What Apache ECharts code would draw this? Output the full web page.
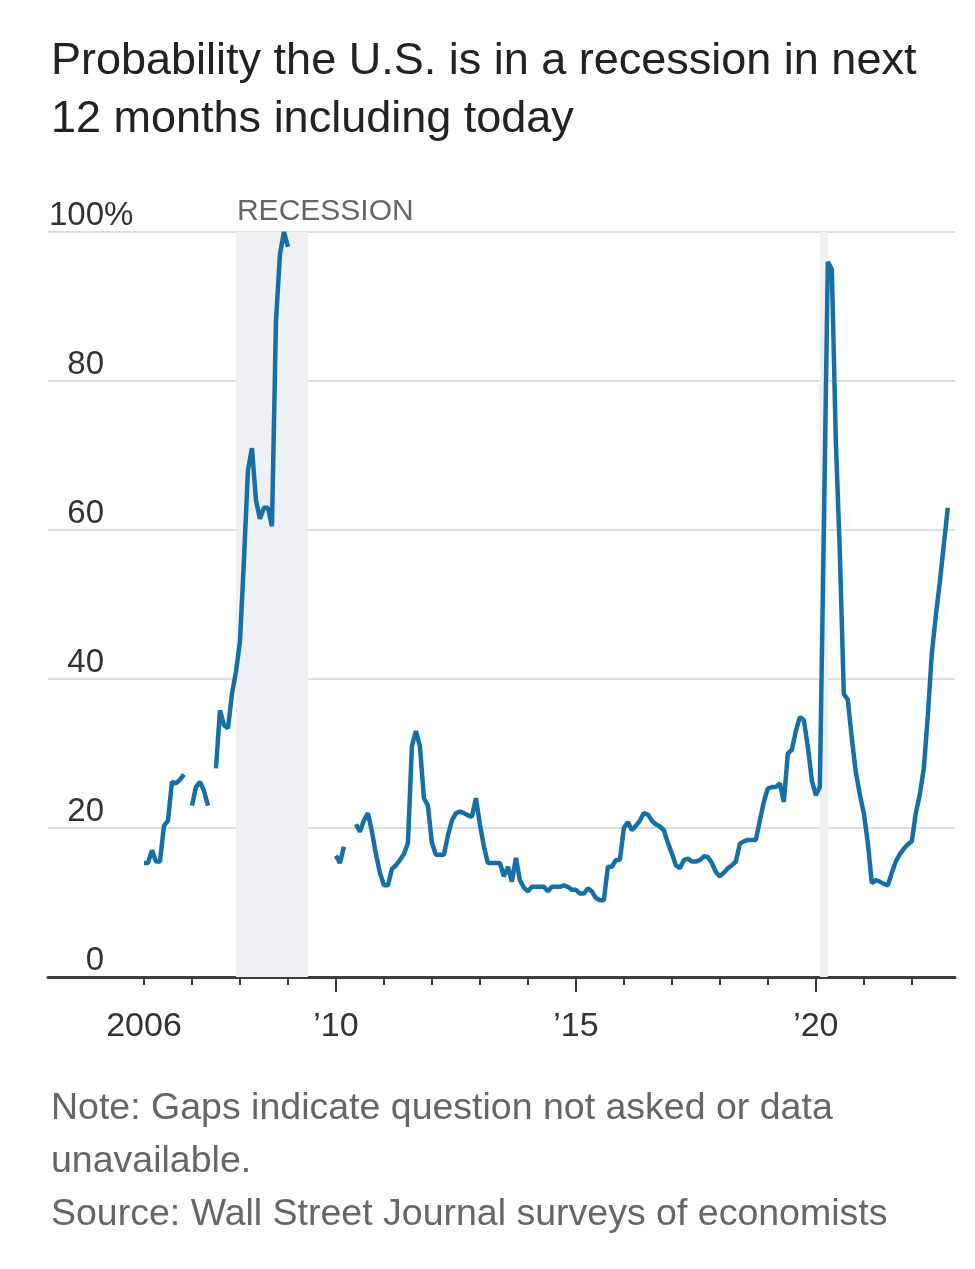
<!DOCTYPE html>
<html>
<head>
<meta charset="utf-8">
<script src="https://cdn.jsdelivr.net/npm/echarts@6/dist/echarts.min.js"></script>
<style>
  html, body { margin: 0; padding: 0; background: #fff; }
  #chart { width: 975px; height: 1269px; }
</style>
</head>
<body>
<div id="chart"></div>
<script>
// survey months (YYYY-MM) and probability in %, null = gap in the survey
var months = [
  '2006-01','2006-02','2006-03','2006-04','2006-05','2006-06','2006-07','2006-08','2006-09','2006-10','2006-11','2006-12',
  '2007-01','2007-02','2007-03','2007-04','2007-05','2007-06',
  '2007-07','2007-08','2007-09','2007-10','2007-11','2007-12',
  '2008-01','2008-02','2008-03','2008-04','2008-05','2008-06','2008-07','2008-08','2008-09','2008-10','2008-11','2008-12',
  '2009-01','2009-02',
  '2010-01','2010-02','2010-03','2010-04',
  '2010-06','2010-07','2010-08','2010-09','2010-10','2010-11','2010-12',
  '2011-01','2011-02','2011-03','2011-04','2011-05','2011-06','2011-07','2011-08','2011-09','2011-10','2011-11','2011-12',
  '2012-01','2012-02','2012-03','2012-04','2012-05','2012-06','2012-07','2012-08','2012-09','2012-10','2012-11','2012-12',
  '2013-01','2013-02','2013-03','2013-04','2013-05','2013-06','2013-07','2013-08','2013-09','2013-10','2013-11','2013-12',
  '2014-01','2014-02','2014-03','2014-04','2014-05','2014-06','2014-07','2014-08','2014-09','2014-10','2014-11','2014-12',
  '2015-01','2015-02','2015-03','2015-04','2015-05','2015-06','2015-07','2015-08','2015-09','2015-10','2015-11','2015-12',
  '2016-01','2016-02','2016-03','2016-04','2016-05','2016-06','2016-07','2016-08','2016-09','2016-10','2016-11','2016-12',
  '2017-01','2017-02','2017-03','2017-04','2017-05','2017-06','2017-07','2017-08','2017-09','2017-10','2017-11','2017-12',
  '2018-01','2018-02','2018-03','2018-04','2018-05','2018-06','2018-07','2018-08','2018-09','2018-10','2018-11','2018-12',
  '2019-01','2019-02','2019-03','2019-04','2019-05','2019-06','2019-07','2019-08','2019-09','2019-10','2019-11','2019-12',
  '2020-01','2020-02','2020-03','2020-04','2020-05','2020-06','2020-07','2020-08','2020-09','2020-10','2020-11','2020-12',
  '2021-01','2021-02','2021-03','2021-04','2021-05','2021-06','2021-07','2021-08','2021-09','2021-10','2021-11','2021-12',
  '2022-01','2022-02','2022-03','2022-04','2022-05','2022-06','2022-07','2022-08','2022-09','2022-10'
];
var probability = [
  15.3, 15.3, 17, 15.5, 15.5, 20.3, 21, 26.2, 26, 26.5, 27.2, null,
  23, 25.5, 26.2, 25, 23, null,
  28, 35.8, 33.8, 33.4, 38, 41,
  45, 56, 68, 71, 64, 61.5, 63, 63, 60.5, 88, 97, 100,
  98, null,
  16.3, 15.3, 17.5, null,
  20.5, 19.5, 21, 22, 19.5, 16.5, 14,
  12.3, 12.3, 14.5, 15, 15.7, 16.5, 18, 31, 33, 31, 24, 23,
  18, 16.4, 16.4, 16.4, 19, 21, 22, 22.2, 22, 21.7, 21.5, 24,
  20.5, 17.5, 15.3, 15.3, 15.3, 15.3, 13.5, 14.8, 12.8, 16, 13, 12,
  11.5, 12.1, 12.1, 12.1, 12.1, 11.5, 12.1, 12.1, 12.1, 12.3, 12.1, 11.7,
  11.7, 11.2, 11.2, 11.9, 11.5, 10.6, 10.3, 10.3, 14.8, 14.8, 15.7, 15.7,
  20, 20.8, 19.7, 20.3, 21, 22, 21.8, 21, 20.5, 20.2, 19.7, 18,
  16.6, 15, 14.6, 15.7, 15.9, 15.5, 15.5, 15.7, 16.2, 16.1, 15.3, 14.1,
  13.5, 14, 14.6, 15, 15.5, 17.9, 18.2, 18.4, 18.4, 18.4, 21, 23.5,
  25.3, 25.5, 25.5, 26, 23.5, 30, 30.5, 33, 34.9, 34.5, 30.9, 26.4,
  24.4, 25.5, 60, 96, 95, 72, 57, 38, 37.2, 32, 27.5, 24.5,
  22, 18, 12.6, 13, 12.8, 12.5, 12.3, 14, 15.5, 16.5, 17.2, 17.8,
  18.2, 22, 24.5, 28, 35, 43.4, 48.5, 53, 58, 63
];
// recession periods (start month, end month)
var recessions = [['2007-12', '2009-06'], ['2020-02', '2020-04']];
var xLabelYears = [2006, 2010, 2015, 2020];
var xMajorYears = [2010, 2015, 2020];
var xTickYears = [2006,2007,2008,2009,2010,2011,2012,2013,2014,2015,2016,2017,2018,2019,2020,2021,2022];

var font = '"Liberation Sans", Arial, sans-serif';

function toYear(s) {
  var p = s.split('-');
  return +p[0] + (+p[1] - 1) / 12;
}

var lineData = months.map(function (m, i) {
  return [toYear(m), probability[i] === null ? '-' : probability[i]];
});

var bands = recessions.map(function (r, i) {
  return [
    { xAxis: toYear(r[0]), name: i === 0 ? 'RECESSION' : '', label: { show: i === 0 } },
    { xAxis: toYear(r[1]) }
  ];
});

var chart = echarts.init(document.getElementById('chart'));

chart.setOption({
  backgroundColor: '#fff',
  animation: false,
  title: [{
    text: 'Probability the U.S. is in a recession in next\n12 months including today',
    left: 46,
    top: 28,
    textStyle: { fontFamily: font, fontSize: 45, fontWeight: 'normal', color: '#222', lineHeight: 58 }
  }, {
    text: 'Note: Gaps indicate question not asked or data\nunavailable.\nSource: Wall Street Journal surveys of economists',
    left: 46,
    top: 1077,
    textStyle: { fontFamily: font, fontSize: 37.5, fontWeight: 'normal', color: '#666', lineHeight: 53 }
  }],
  grid: { left: 48, right: 20, top: 232, bottom: 292 },
  xAxis: [{
    type: 'value',
    min: 2004,
    max: 2022.9,
    splitLine: { show: false },
    axisLine: { lineStyle: { color: '#3c3c3c', width: 3 } },
    axisTick: { customValues: xTickYears, length: 8, lineStyle: { color: '#3c3c3c', width: 2 } },
    axisLabel: {
      customValues: xLabelYears,
      margin: 33,
      fontFamily: font,
      fontSize: 34,
      color: '#333',
      formatter: function (v) { return v === 2006 ? '2006' : '\u2019' + String(v).slice(2); }
    }
  }, {
    type: 'value',
    position: 'bottom',
    min: 2004,
    max: 2022.9,
    splitLine: { show: false },
    axisLine: { show: false },
    axisLabel: { show: false },
    axisTick: { customValues: xMajorYears, length: 15, lineStyle: { color: '#3c3c3c', width: 2 } }
  }],
  yAxis: {
    type: 'value',
    min: 0,
    max: 100,
    interval: 20,
    axisLine: { show: false },
    axisTick: { show: false },
    splitLine: { lineStyle: { color: '#dedede', width: 2 } },
    axisLabel: {
      inside: true,
      align: 'right',
      verticalAlign: 'bottom',
      margin: 56,
      fontFamily: font,
      fontSize: 33,
      color: '#333',
      // the "%" hangs to the right of the aligned numbers
      formatter: function (v) { return v === 100 ? '{n|100}{p|%}' : String(v); },
      rich: {
        n: { align: 'left', fontFamily: font, fontSize: 33, color: '#333' },
        p: { width: 0, align: 'left', fontFamily: font, fontSize: 33, color: '#333' }
      }
    }
  },
  series: [{
    type: 'line',
    data: lineData,
    showSymbol: false,
    connectNulls: false,
    lineStyle: { color: '#1670a6', width: 4.5 },
    z: 3,
    markArea: {
      silent: true,
      itemStyle: { color: '#eef0f3' },
      label: {
        position: [1, -5],
        align: 'left',
        verticalAlign: 'bottom',
        fontFamily: font,
        fontSize: 30,
        color: '#666'
      },
      data: bands
    }
  }]
});
</script>
</body>
</html>
